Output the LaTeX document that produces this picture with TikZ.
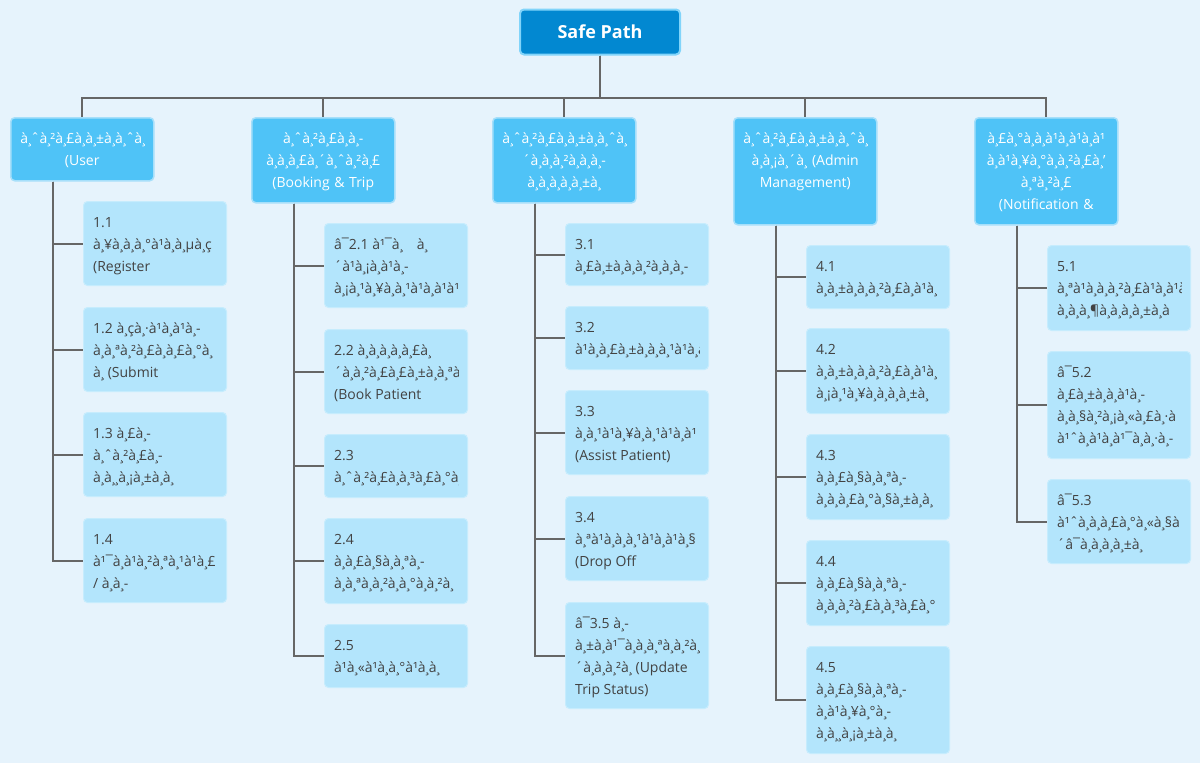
\documentclass[tikz,border=0pt]{standalone}
\usepackage{fontspec}
\setmainfont{Open Sans}
\definecolor{bg}{HTML}{E6F3FC}
\definecolor{rootfill}{HTML}{0288D1}
\definecolor{rootedge}{HTML}{81D4FA}
\definecolor{midfill}{HTML}{4FC3F7}
\definecolor{midedge}{HTML}{A6DFFA}
\definecolor{leaffill}{HTML}{B3E5FC}
\definecolor{leafedge}{HTML}{C6ECFD}
\definecolor{linecol}{HTML}{666666}
\definecolor{leafink}{HTML}{424242}
\tikzset{
  rootbox/.style={draw=rootedge, line width=2pt, fill=rootfill, rounded corners=4pt, minimum width=160pt, minimum height=45pt, inner sep=0pt, text=white, font=\fontsize{18}{22}\selectfont\bfseries},
  midbox/.style={draw=midedge, line width=1.5pt, fill=midfill, rounded corners=4pt, minimum width=143pt, inner sep=0pt},
  midtext/.style={inner sep=0pt, text width=124pt, align=center, text=white, font=\fontsize{14}{22}\selectfont},
  leafbox/.style={draw=leafedge, line width=1pt, fill=leaffill, rounded corners=4pt, minimum width=143pt, inner sep=0pt},
  leaftext/.style={inner sep=0pt, align=left, text=leafink, font=\fontsize{14}{22}\selectfont},
  conn/.style={draw=linecol, line width=2pt}
}
\newcommand\leafnode[5]{%
  \node[leafbox, minimum height=#4pt, anchor=north west] (#1) at (#2,#3) {};
  \begin{scope}
    \clip ([xshift=10pt]#1.south west) rectangle ([xshift=-10pt]#1.north east);
    \node[leaftext, anchor=north west] (#1t) at ([xshift=10pt,yshift=-11pt]#1.north west) {\strut #5};
  \end{scope}}
\newcommand\midnode[5]{%
  \node[midbox, minimum height=#4pt, anchor=north west] (#1) at (#2,#3) {};
  \begin{scope}
    \clip ([xshift=10pt]#1.south west) rectangle ([xshift=-10pt]#1.north east);
    \node[midtext, anchor=north] (#1t) at ([yshift=-11pt]#1.north) {\strut #5};
  \end{scope}}
\begin{document}
\begin{tikzpicture}[x=1pt,y=-1pt]
\useasboundingbox[fill=bg] (0,0) rectangle (1200,763);

% root
\node[rootbox] (root) at (600,32) {Safe Path};

% level 1
\midnode{g1}{10}{117}{63}{\mbox{à¸ˆà¸²à¸£à¸à¸±à¸à¸ˆà¸}\\\mbox{(User}}
\midnode{g2}{251}{117}{85}{\mbox{à¸ˆà¸²à¸£à¸à¸-}\\\mbox{à¸à¸à¸£à¸´à¸ˆà¸²à¸£}\\\mbox{(Booking \& Trip}}
\midnode{g3}{492}{117}{85}{\mbox{à¸ˆà¸²à¸£à¸à¸±à¸à¸ˆà¸}\\\mbox{´à¸à¸à¸²à¸à¸à¸-}\\\mbox{à¸à¸à¸à¸à¸±à¸}}
\midnode{g4}{733}{117}{107}{\mbox{à¸ˆà¸²à¸£à¸à¸±à¸à¸ˆà¸}\\\mbox{à¸à¸¡à¸´à¸ (Admin}\\\mbox{Management)}}
\midnode{g5}{974}{117}{107}{\mbox{à¸£à¸°à¸à¸à¹à¸à¹à¸à¹}\\\mbox{à¸à¹à¸¥à¸°à¸à¸²à¸£à¸'}\\\mbox{à¸ªà¸²à¸£}\\\mbox{(Notification \&}}

% group 1
\leafnode{a1}{83}{201}{84}{1.1\\à¸¥à¸à¸à¸°à¹à¸à¸µà¸ç\\(Register}
\leafnode{a2}{83}{307}{84}{1.2 à¸çà¸·à¹à¸à¹à¸-\\à¸à¸ªà¸²à¸£à¸à¸£à¸°à¸\\à¸ (Submit}
\leafnode{a3}{83}{412}{84}{1.3 à¸£à¸-\\à¸ˆà¸²à¸£à¸-\\à¸à¸¸à¸¡à¸±à¸à¸}
\leafnode{a4}{83}{518}{84}{1.4\\à¹¯à¸à¹à¸²à¸ªà¸¹à¹à¸£\\/ à¸à¸-}

% group 2
\leafnode{b1}{324}{223}{84}{â¯2.1 à¹¯à¸\hspace{14pt}à¸\\´à¹à¸¡à¸à¹à¸-\\à¸¡à¸¹à¸¥à¸à¸¹à¹à¸à¹à¹à}
\leafnode{b2}{324}{329}{84}{2.2 à¸à¸à¸à¸à¸£à¸\\´à¸à¸²à¸£à¸£à¸±à¸à¸ªà¸ª\\(Book Patient}
\leafnode{b3}{324}{434}{63}{2.3\\à¸ˆà¸²à¸£à¸à¸³à¸£à¸°à¸}
\leafnode{b4}{324}{518}{85}{2.4\\à¸à¸£à¸§à¸à¸ªà¸-\\à¸à¸ªà¸à¸²à¸à¸°à¸à¸²à¸}
\leafnode{b5}{324}{624}{63}{2.5\\à¹à¸«à¹à¸à¸°à¹à¸à¸}

% group 3
\leafnode{c1}{565}{223}{62}{3.1\\à¸£à¸±à¸à¸à¸²à¸à¸à¸-}
\leafnode{c2}{565}{306}{63}{3.2\\à¹à¸à¸£à¸±à¸à¸à¸¹à¹à¸à}
\leafnode{c3}{565}{390}{84}{3.3\\à¸à¸¹à¹à¸¥à¸à¸¹à¹à¸à¹\\(Assist Patient)}
\leafnode{c4}{565}{496}{84}{3.4\\à¸ªà¹à¸à¸à¸¹à¹à¸à¹à¸§\\(Drop Off}
\leafnode{c5}{565}{602}{106}{â¯3.5 à¸-\\à¸±à¸à¹¯à¸à¸à¸ªà¸à¸²à¸\\´à¸à¸à¸²à¸ (Update\\Trip Status)}

% group 4
\leafnode{d1}{806}{245}{63}{4.1\\à¸à¸±à¸à¸à¸²à¸£à¸à¹à¸}
\leafnode{d2}{806}{328}{85}{4.2\\à¸à¸±à¸à¸à¸²à¸£à¸à¹à¸\\à¸¡à¸¹à¸¥à¸à¸à¸à¸±à¸}
\leafnode{d3}{806}{434}{85}{4.3\\à¸à¸£à¸§à¸à¸ªà¸-\\à¸à¸à¸£à¸°à¸§à¸±à¸à¸}
\leafnode{d4}{806}{540}{85}{4.4\\à¸à¸£à¸§à¸à¸ªà¸-\\à¸à¸à¸²à¸£à¸à¸³à¸£à¸°}
\leafnode{d5}{806}{646}{107}{4.5\\à¸à¸£à¸§à¸à¸ªà¸-\\à¸à¹à¸¥à¸°à¸-\\à¸à¸¸à¸¡à¸±à¸à¸}

% group 5
\leafnode{e1}{1047}{245}{85}{5.1\\à¸ªà¹à¸à¸à¸²à¸£à¹à¸à¹à¸\\à¸à¸à¸¶à¸à¸à¸à¸±à¸à}
\leafnode{e2}{1047}{351}{107}{â¯5.2\\à¸£à¸±à¸à¸à¹à¸-\\à¸à¸§à¸²à¸¡à¸«à¸£à¸·à\\à¹ˆà¸à¹à¸à¹¯à¸à¸·à¸-}
\leafnode{e3}{1047}{479}{84}{â¯5.3\\à¹ˆà¸à¸à¸£à¸°à¸«à¸§à\\´â¯à¸à¸à¸à¸±à¸}

% connectors: root to level 1
\foreach \g in {g1,g2,g3,g4,g5}
  \draw[conn] (root.south) -- ++(0,42) -| (\g.north);

% connectors: level 1 to leaves
\foreach \l in {a1,a2,a3,a4}
  \draw[conn] ([xshift=43pt]g1.south west) |- (\l.west);
\foreach \l in {b1,b2,b3,b4,b5}
  \draw[conn] ([xshift=43pt]g2.south west) |- (\l.west);
\foreach \l in {c1,c2,c3,c4,c5}
  \draw[conn] ([xshift=43pt]g3.south west) |- (\l.west);
\foreach \l in {d1,d2,d3,d4,d5}
  \draw[conn] ([xshift=43pt]g4.south west) |- (\l.west);
\foreach \l in {e1,e2,e3}
  \draw[conn] ([xshift=43pt]g5.south west) |- (\l.west);
\end{tikzpicture}
\end{document}
